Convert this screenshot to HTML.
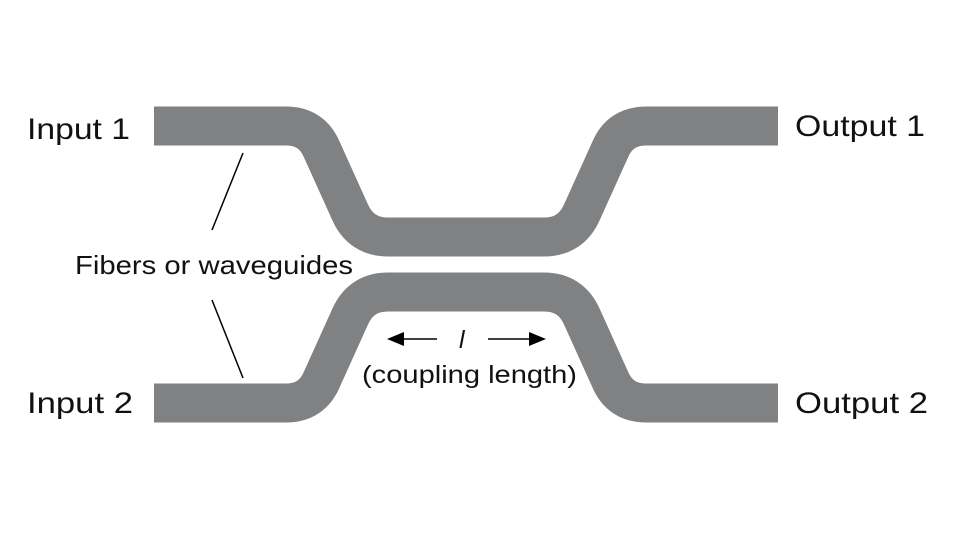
<!DOCTYPE html>
<html><head><style>html,body{margin:0;padding:0;background:#fff}</style></head>
<body>
<svg width="955" height="538" viewBox="0 0 955 538" xmlns="http://www.w3.org/2000/svg">
<rect width="955" height="538" fill="#fff"/>
<g fill="none" stroke="#808182" stroke-width="39">
<path d="M154,126 H286 Q312,126 322,150 L350,212 Q361,237 388,237 H544 Q571,237 582,212 L610,150 Q620,126 646,126 H778"/>
<path d="M154,403 H286 Q312,403 322,379 L350,317 Q361,292 388,292 H544 Q571,292 582,317 L610,379 Q620,403 646,403 H778"/>
</g>
<g stroke="#000" stroke-width="1.5">
<line x1="243" y1="153" x2="212" y2="230"/>
<line x1="212" y1="300" x2="243" y2="378"/>
<line x1="398" y1="339" x2="437" y2="339"/>
<line x1="488" y1="339" x2="532" y2="339"/>
</g>
<polygon points="387,339 404,332 404,346" fill="#000"/>
<polygon points="546,339 529,332 529,346" fill="#000"/>
<g font-family="Liberation Sans, sans-serif" fill="#111">
<text x="27" y="139" font-size="30" textLength="103" lengthAdjust="spacingAndGlyphs">Input 1</text>
<text x="27" y="413" font-size="30" textLength="106" lengthAdjust="spacingAndGlyphs">Input 2</text>
<text x="795" y="136" font-size="30" textLength="130" lengthAdjust="spacingAndGlyphs">Output 1</text>
<text x="795" y="413" font-size="30" textLength="133" lengthAdjust="spacingAndGlyphs">Output 2</text>
<text x="75" y="274" font-size="26" textLength="278" lengthAdjust="spacingAndGlyphs">Fibers or waveguides</text>
<text x="362" y="383" font-size="25" textLength="215" lengthAdjust="spacingAndGlyphs">(coupling length)</text>
<text x="459" y="348" font-size="25" font-style="italic">l</text>
</g>
</svg>
</body></html>
